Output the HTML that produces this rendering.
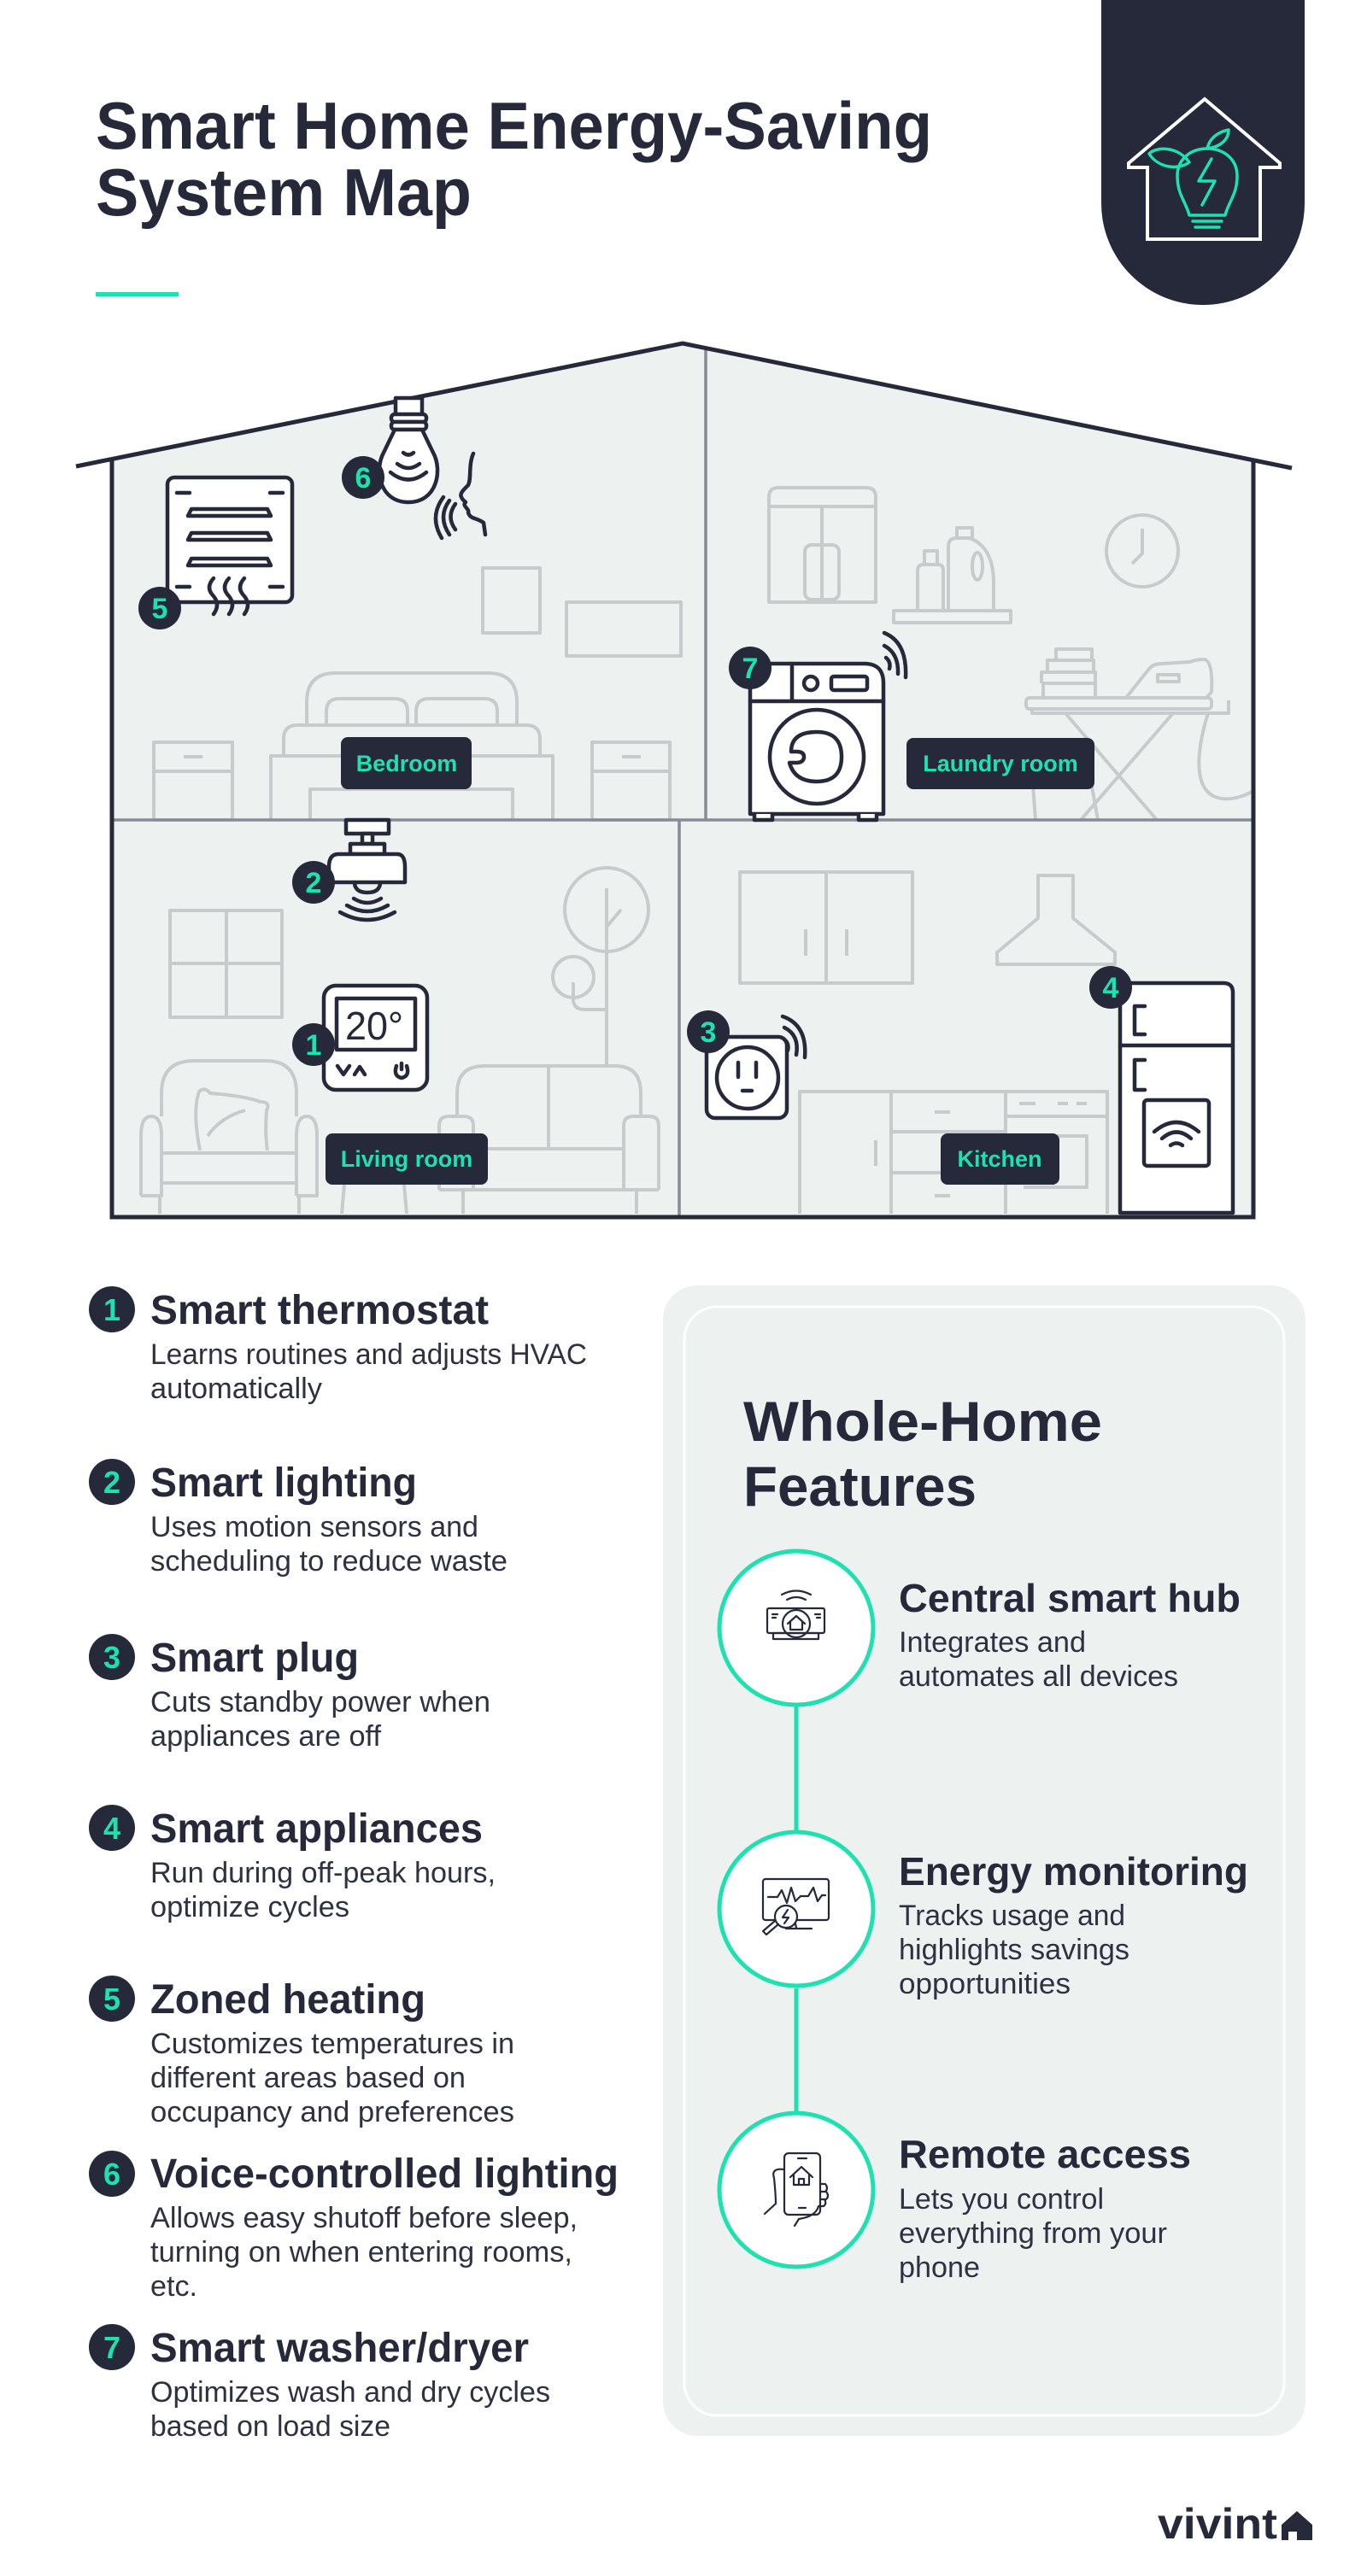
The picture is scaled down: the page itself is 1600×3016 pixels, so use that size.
<!DOCTYPE html>
<html><head><meta charset="utf-8"><style>
html,body{margin:0;padding:0;background:#fff;}
svg{display:block;}
.t{font-family:"Liberation Sans",sans-serif;}
</style></head><body>
<svg width="1600" height="3016" viewBox="0 0 1600 3016" xmlns="http://www.w3.org/2000/svg" class="t">
<rect width="1600" height="3016" fill="#fff"/>
<!-- Title -->
<text x="112" y="174" font-size="78" font-weight="bold" fill="#262939" textLength="979" lengthAdjust="spacingAndGlyphs">Smart Home Energy-Saving</text>
<text x="112" y="252" font-size="78" font-weight="bold" fill="#262939" textLength="440" lengthAdjust="spacingAndGlyphs">System Map</text>
<rect x="112" y="342" width="97" height="5" fill="#1de2b0"/>
<!-- Tab -->
<path d="M1289 0 H1527 V238 A119 119 0 0 1 1289 238 Z" fill="#262939"/>
<g fill="none" stroke="#fff" stroke-width="4">
<path d="M1321 191 L1410 116 L1498 191 L1498 196 L1475 196 L1475 280 L1343 280 L1343 196 L1321 196 Z"/>
</g>
<g fill="none" stroke="#1de2b0" stroke-width="3.5" stroke-linecap="round" stroke-linejoin="round">
<path d="M1392 252 C1388 236 1378 228 1378 206 C1378 186 1394 174 1413 174 C1432 174 1448 186 1448 206 C1448 228 1438 236 1434 252 Z"/>
<path d="M1396 259 H1430 M1399 266 H1427"/>
<path d="M1418 186 L1403 212 H1422 L1407 240"/>
<path d="M1392 190 C1378 170 1352 172 1345 180 C1355 196 1378 200 1392 190 Z"/>
<path d="M1413 174 C1416 160 1428 154 1438 152 C1438 164 1428 172 1413 174 Z"/>
</g>
<!-- House -->
<polygon points="131,536 799,404 1467,538 1467,1425 131,1425" fill="#edf2f1"/>
<g stroke="#c8cbcc" stroke-width="4" fill="none" stroke-linejoin="round">
<rect x="565" y="665" width="67" height="76"/>
<rect x="663" y="705" width="134" height="63"/>
<path d="M359 849 V822 Q359 788 393 788 H571 Q605 788 605 822 V849"/>
<path d="M382 849 V833 Q382 818 397 818 H462 Q477 818 477 833 V849 M487 849 V833 Q487 818 502 818 H567 Q582 818 582 833 V849"/>
<path d="M332 885 V865 Q332 849 348 849 H616 Q632 849 632 865 V885"/>
<path d="M317 960 V885 H647 V960 M363 960 V924 H600 V960"/>
<rect x="180" y="869" width="92" height="91"/><path d="M180 903 H272 M215 886 H237"/>
<rect x="693" y="869" width="91" height="91"/><path d="M693 903 H784 M728 886 H750"/>
<path d="M900 705 V582 Q900 571 911 571 H1014 Q1025 571 1025 582 V705 Z M900 593 H1025 M962 593 V705"/>
<rect x="942" y="638" width="40" height="64" rx="8"/>
<rect x="1046" y="715" width="137" height="14"/>
<path d="M1074 715 V668 Q1074 661 1081 661 H1098 Q1104 661 1104 668 V715 M1082 661 V645 H1097 V661"/>
<path d="M1110 715 V640 Q1110 630 1120 630 H1135 Q1162 640 1163 680 V715 M1120 630 V618 H1138 V630"/>
<ellipse cx="1144" cy="663" rx="6" ry="16"/>
<circle cx="1337" cy="645" r="42"/><path d="M1337 619 V648 L1325 660"/>
<rect x="1201" y="817" width="217" height="13" rx="4"/>
<path d="M1208 830 V835 H1438 V820"/>
<path d="M1221 817 V800 H1282 V817 M1219 800 V787 H1282 V800 M1226 787 V773 H1280 V787 M1236 773 V760 H1278 V773"/>
<path d="M1318 817 L1345 783 Q1350 777 1360 777 L1393 775 Q1400 772 1410 772 Q1420 775 1418 810 L1412 817 M1355 790 H1380 V798 H1355 Z"/>
<path d="M1247 835 L1354 960 M1373 835 L1265 960 M1268 865 L1285 960 M1205 865 L1212 960"/>
<path d="M1414 835 C1400 880 1395 930 1430 935 C1445 937 1460 930 1467 926"/>
<rect x="199" y="1066" width="131" height="125"/><path d="M265 1066 V1191 M199 1128 H330"/>
<circle cx="710" cy="1065" r="49"/><path d="M710 1040 V1248 M710 1085 L727 1065"/>
<circle cx="671" cy="1144" r="24"/><path d="M671 1150 V1170 Q671 1182 685 1182 H710"/>
<path d="M189 1307 V1280 Q189 1242 227 1242 H311 Q347 1242 347 1280 V1307"/>
<path d="M165 1400 V1330 Q165 1307 177 1307 Q189 1307 189 1330 V1400 H165 M347 1400 V1330 Q347 1307 359 1307 Q371 1307 371 1330 V1400 H347"/>
<path d="M189 1350 H347 M189 1385 H347 M187 1400 V1421 M350 1400 V1421"/>
<path d="M234 1347 Q225 1300 233 1278 Q240 1272 246 1280 Q285 1283 305 1290 Q317 1290 312 1300 Q310 1330 313 1347 M243 1330 Q258 1308 287 1300"/>
<path d="M535 1307 V1280 Q535 1248 567 1248 H720 Q750 1248 750 1280 V1307 M642 1248 V1345 M554 1345 H730"/>
<path d="M514 1393 V1318 Q514 1307 525 1307 H543 Q554 1307 554 1318 V1393 M730 1393 V1318 Q730 1307 741 1307 H760 Q771 1307 771 1318 V1393 M514 1393 H771 M542 1393 V1421 M745 1393 V1421 M403 1387 L400 1421 M473 1387 L476 1421"/>
<rect x="866" y="1021" width="202" height="130"/><path d="M967 1021 V1151 M943 1088 V1119 M991 1088 V1119"/>
<path d="M1215 1025 H1256 V1075 L1305 1115 V1129 H1167 V1115 L1215 1075 Z"/>
<path d="M936 1421 V1278 H1296 V1421 M1043 1278 V1421 M1177 1278 V1421 M1043 1325 H1177 M1043 1373 H1177 M1177 1307 H1296 M1025 1335 V1365 M1094 1302 H1112 M1094 1400 H1112 M1193 1292 H1212 M1238 1292 H1250 M1260 1292 H1272 M1198 1330 H1272 V1390 H1198"/>
</g>
<g stroke="#878b95" stroke-width="3.5">
<path d="M131 960 H1467 M826 410 V960 M795 960 V1425"/>
</g>
<polyline points="89,546 799,402 1512,548" fill="none" stroke="#262939" stroke-width="5"/>
<path d="M131 538 V1425 H1467 V538" fill="none" stroke="#262939" stroke-width="5"/>
<!-- devices -->
<g stroke="#262939" stroke-width="4.5" fill="#fff" stroke-linecap="round" stroke-linejoin="round">
<rect x="196" y="559" width="146" height="146" rx="8"/>
<path d="M207 577 H222 M316 577 H331 M207 687 H222 M316 687 H331" fill="none"/>
<path d="M220 604 L224 596 H313 L317 604 Z M220 632 L224 624 H313 L317 632 Z M220 662 L224 654 H313 L317 662 Z"/>
<path d="M250 677 Q240 688 250 698 Q258 708 250 719 M268 677 Q258 688 268 698 Q276 708 268 719 M286 677 Q276 688 286 698 Q294 708 286 719" fill="none"/>
<rect x="463" y="466" width="31" height="20" fill="#fff"/>
<rect x="458" y="485" width="41" height="9" rx="4"/><rect x="458" y="494" width="41" height="9" rx="4"/>
<path d="M462 503 L449 530 C438 550 444 588 478 588 C512 588 518 550 507 530 L494 503 Z"/>
<path d="M472 530 Q478 535 484 530 M465 543 Q478 553 491 543 M457 553 Q478 570 499 553" fill="none"/>
<path d="M554 531 C548 545 552 560 548 568 C540 576 535 580 545 588 C540 592 550 596 548 600 C550 608 558 606 566 612 L568 626" fill="none"/>
<path d="M533 590 Q522 605 533 620 M526 586 Q512 605 526 626 M519 582 Q502 605 517 630" fill="none"/>
<rect x="405" y="960" width="50" height="16"/>
<rect x="424" y="976" width="12" height="12"/>
<rect x="410" y="988" width="40" height="12"/>
<path d="M396 1000 H465 Q474 1000 474 1015 V1033 H385 V1015 Q385 1000 396 1000 Z"/>
<path d="M415 1033 Q415 1045 430 1045 Q445 1045 445 1033" fill="none"/>
<path d="M414 1052 Q430 1062 446 1052 M406 1060 Q430 1074 454 1060 M398 1068 Q430 1086 462 1068" fill="none"/>
<rect x="379" y="1154" width="121" height="122" rx="14"/>
<rect x="394" y="1169" width="92" height="60" fill="none"/>
<path d="M395 1248 L402 1258 L409 1248 M415 1258 L421 1249 L427 1258 M470 1245 V1252 M464 1248 Q460 1260 470 1262 Q480 1260 476 1248" fill="none"/>
<path d="M878 953 V790 Q878 777 891 777 H1012 Q1034 777 1034 800 V953 Z"/>
<path d="M878 821 H1034 M927 777 V821" fill="none"/>
<circle cx="949" cy="800" r="8"/><rect x="973" y="792" width="42" height="16" rx="3"/>
<circle cx="956" cy="886" r="55"/>
<path d="M926 880 Q926 857 956 857 Q985 857 985 886 Q985 915 956 915 Q930 915 924 893 H932 Q941 893 941 886 Q941 880 932 880 Z"/>
<path d="M883 953 V960 H904 V953 M1005 953 V960 H1026 V953"/>
<path d="M1037 770 Q1043 775 1041 783 M1035 756 Q1052 765 1051 789 M1035 741 Q1062 752 1060 793" fill="none"/>
<rect x="827" y="1214" width="94" height="95" rx="10"/>
<ellipse cx="875" cy="1262" rx="36" ry="36"/>
<path d="M864 1244 V1261 M885 1244 V1261 M869 1277 H880" fill="none"/>
<path d="M918 1217 Q924 1222 922 1230 M918 1203 Q936 1212 932 1235 M916 1190 Q945 1200 942 1238" fill="none"/>
<path d="M1311 1420 V1162 Q1311 1151 1322 1151 H1432 Q1443 1151 1443 1162 V1420 Z"/>
<path d="M1311 1224 H1443 M1340 1178 H1328 V1211 H1340 M1340 1241 H1328 V1276 H1340" fill="none"/>
<rect x="1339" y="1288" width="76" height="77" rx="4"/>
<path d="M1351 1325 Q1377 1303 1403 1325 M1360 1333 Q1377 1318 1394 1333 M1370 1341 Q1377 1336 1384 1341" fill="none"/>
</g>
<text x="438" y="1217" font-size="46" fill="#262939" text-anchor="middle" textLength="68" lengthAdjust="spacingAndGlyphs">20°</text>
<!-- room labels -->
<g font-size="27" font-weight="bold" fill="#1de2b0" text-anchor="middle">
<rect x="399" y="863" width="153" height="61" rx="8" fill="#262939"/><text x="476" y="903">Bedroom</text>
<rect x="1061" y="864" width="220" height="60" rx="8" fill="#262939"/><text x="1171" y="903">Laundry room</text>
<rect x="381" y="1327" width="190" height="60" rx="8" fill="#262939"/><text x="476" y="1366">Living room</text>
<rect x="1101" y="1327" width="139" height="60" rx="8" fill="#262939"/><text x="1170" y="1366">Kitchen</text>
</g>
<g font-size="34" font-weight="bold" text-anchor="middle">
<g fill="#262939"><circle cx="425" cy="559" r="25"/><circle cx="187" cy="712" r="25"/><circle cx="878" cy="782" r="25"/><circle cx="367" cy="1033" r="25"/><circle cx="367" cy="1223" r="25"/><circle cx="829" cy="1208" r="25"/><circle cx="1300" cy="1156" r="25"/></g>
<g fill="#1de2b0"><text x="425" y="571">6</text><text x="187" y="724">5</text><text x="878" y="794">7</text><text x="367" y="1045">2</text><text x="367" y="1235">1</text><text x="829" y="1220">3</text><text x="1300" y="1168">4</text></g>
</g>
<!-- list -->
<g font-size="36" font-weight="bold" text-anchor="middle">
<g fill="#262939"><circle cx="131" cy="1533" r="27"/><circle cx="131" cy="1735" r="27"/><circle cx="131" cy="1940" r="27"/><circle cx="131" cy="2140" r="27"/><circle cx="131" cy="2340" r="27"/><circle cx="131" cy="2545" r="27"/><circle cx="131" cy="2748" r="27"/></g>
<g fill="#1de2b0"><text x="131" y="1546">1</text><text x="131" y="1748">2</text><text x="131" y="1953">3</text><text x="131" y="2153">4</text><text x="131" y="2353">5</text><text x="131" y="2558">6</text><text x="131" y="2761">7</text></g>
</g>
<g font-size="48" font-weight="bold" fill="#262939" lengthAdjust="spacingAndGlyphs">
<text x="176" y="1550" textLength="396" lengthAdjust="spacingAndGlyphs">Smart thermostat</text>
<text x="176" y="1752" textLength="312" lengthAdjust="spacingAndGlyphs">Smart lighting</text>
<text x="176" y="1957" textLength="244" lengthAdjust="spacingAndGlyphs">Smart plug</text>
<text x="176" y="2157" textLength="389" lengthAdjust="spacingAndGlyphs">Smart appliances</text>
<text x="176" y="2357" textLength="322" lengthAdjust="spacingAndGlyphs">Zoned heating</text>
<text x="176" y="2561" textLength="548" lengthAdjust="spacingAndGlyphs">Voice-controlled lighting</text>
<text x="176" y="2765" textLength="443" lengthAdjust="spacingAndGlyphs">Smart washer/dryer</text>
</g>
<g font-size="34" fill="#2e3141">
<text x="176" y="1597" textLength="511" lengthAdjust="spacingAndGlyphs">Learns routines and adjusts HVAC</text>
<text x="176" y="1637" textLength="201" lengthAdjust="spacingAndGlyphs">automatically</text>
<text x="176" y="1799" textLength="384" lengthAdjust="spacingAndGlyphs">Uses motion sensors and</text>
<text x="176" y="1839" textLength="418" lengthAdjust="spacingAndGlyphs">scheduling to reduce waste</text>
<text x="176" y="2004" textLength="398" lengthAdjust="spacingAndGlyphs">Cuts standby power when</text>
<text x="176" y="2044" textLength="270" lengthAdjust="spacingAndGlyphs">appliances are off</text>
<text x="176" y="2204" textLength="404" lengthAdjust="spacingAndGlyphs">Run during off-peak hours,</text>
<text x="176" y="2244" textLength="233" lengthAdjust="spacingAndGlyphs">optimize cycles</text>
<text x="176" y="2404" textLength="426" lengthAdjust="spacingAndGlyphs">Customizes temperatures in</text>
<text x="176" y="2444" textLength="369" lengthAdjust="spacingAndGlyphs">different areas based on</text>
<text x="176" y="2484" textLength="426" lengthAdjust="spacingAndGlyphs">occupancy and preferences</text>
<text x="176" y="2608" textLength="500" lengthAdjust="spacingAndGlyphs">Allows easy shutoff before sleep,</text>
<text x="176" y="2648" textLength="494" lengthAdjust="spacingAndGlyphs">turning on when entering rooms,</text>
<text x="176" y="2688" textLength="55" lengthAdjust="spacingAndGlyphs">etc.</text>
<text x="176" y="2812" textLength="468" lengthAdjust="spacingAndGlyphs">Optimizes wash and dry cycles</text>
<text x="176" y="2852" textLength="281" lengthAdjust="spacingAndGlyphs">based on load size</text>
</g>
<!-- right panel -->
<rect x="776" y="1505" width="752" height="1347" rx="40" fill="#edf2f1"/>
<rect x="801" y="1530" width="702" height="1298" rx="38" fill="none" stroke="#fff" stroke-width="3"/>
<g font-size="66" font-weight="bold" fill="#262939">
<text x="870" y="1687" textLength="420" lengthAdjust="spacingAndGlyphs">Whole-Home</text>
<text x="870" y="1763" textLength="273" lengthAdjust="spacingAndGlyphs">Features</text>
</g>
<path d="M932 1996 V2146 M932 2328 V2476" stroke="#1de2b0" stroke-width="5"/>
<g fill="#fff" stroke="#1de2b0" stroke-width="5">
<circle cx="932" cy="1906" r="90"/><circle cx="932" cy="2235" r="90"/><circle cx="932" cy="2564" r="90"/>
</g>
<g fill="none" stroke="#262939" stroke-width="2.2" stroke-linecap="round" stroke-linejoin="round">
<path d="M915 1867 Q932 1858 949 1867 M921 1873 Q932 1867 943 1873"/>
<rect x="898" y="1883" width="67" height="29" rx="2"/><rect x="905" y="1912" width="53" height="7"/>
<circle cx="932" cy="1901" r="16"/><path d="M922 1901 L932 1892 L942 1901 M925 1899 V1908 H939 V1899"/>
<path d="M904 1890 H910 M954 1890 H960 M904 1894 H908 M956 1894 H960"/>
<rect x="893" y="2200" width="77" height="48" rx="3"/>
<path d="M899 2221 H910 L915 2213 L921 2228 L926 2210 L931 2226 L937 2220 H946 L952 2210 L957 2226 L962 2219 H966"/>
<path d="M930 2248 L932 2257 M920 2258 H950"/>
<circle cx="920" cy="2244" r="13" fill="#fff"/><path d="M922 2236 L916 2245 H923 L918 2252"/>
<path d="M911 2253 L897 2265 L893 2261 L907 2249"/>
<rect x="918" y="2521" width="42" height="72" rx="5"/><path d="M934 2527 H944 M935 2585 H943"/>
<path d="M925 2549 L938 2537 L951 2549 M929 2546 V2558 H947 V2546 M935 2558 V2551 H941 V2558"/>
<path d="M918 2540 Q902 2538 906 2550 Q908 2570 908 2580 L895 2592 M960 2557 H966 Q970 2562 966 2566 H960 M960 2566 H967 Q971 2571 967 2575 H960 M960 2575 H965 Q968 2580 964 2583 H958 Q955 2595 935 2598 L930 2606"/>
</g>
<g font-size="46" font-weight="bold" fill="#262939">
<text x="1052" y="1887" textLength="400" lengthAdjust="spacingAndGlyphs">Central smart hub</text>
<text x="1052" y="2207" textLength="409" lengthAdjust="spacingAndGlyphs">Energy monitoring</text>
<text x="1052" y="2538" textLength="342" lengthAdjust="spacingAndGlyphs">Remote access</text>
</g>
<g font-size="34" fill="#2e3141">
<text x="1052" y="1934" textLength="219" lengthAdjust="spacingAndGlyphs">Integrates and</text>
<text x="1052" y="1974" textLength="327" lengthAdjust="spacingAndGlyphs">automates all devices</text>
<text x="1052" y="2254" textLength="265" lengthAdjust="spacingAndGlyphs">Tracks usage and</text>
<text x="1052" y="2294" textLength="270" lengthAdjust="spacingAndGlyphs">highlights savings</text>
<text x="1052" y="2334" textLength="201" lengthAdjust="spacingAndGlyphs">opportunities</text>
<text x="1052" y="2586" textLength="240" lengthAdjust="spacingAndGlyphs">Lets you control</text>
<text x="1052" y="2626" textLength="314" lengthAdjust="spacingAndGlyphs">everything from your</text>
<text x="1052" y="2666" textLength="95" lengthAdjust="spacingAndGlyphs">phone</text>
</g>
<!-- logo -->
<text x="1355" y="2972" font-size="50" font-weight="bold" fill="#262939" textLength="140" lengthAdjust="spacingAndGlyphs">vivint</text>
<path d="M1500 2956 L1518 2940 L1536 2956 V2974 H1518 V2964 H1508 V2974 H1500 Z" fill="#262939"/>
</svg>
</body></html>
